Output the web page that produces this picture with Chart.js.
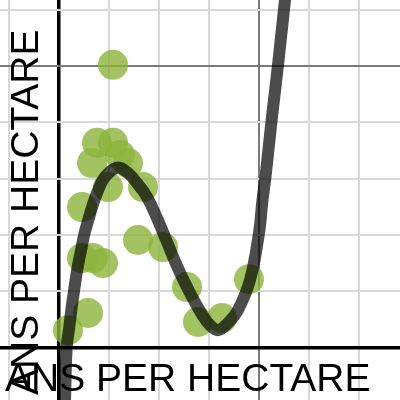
<!DOCTYPE html>
<html>
<head>
<meta charset="utf-8">
<script src="https://cdn.jsdelivr.net/npm/chart.js@4/dist/chart.umd.min.js"></script>
<style>
  html, body { margin: 0; padding: 0; background: #fff; }
  #wrap { width: 400px; height: 400px; position: relative; }
</style>
</head>
<body>
<div id="wrap"><canvas id="chart"></canvas></div>
<script>
const obsX = [0.54, 0.38, 0.54, 0.61, 0.69, 0.33, 0.49, 0.84, 0.23, 0.23, 0.34, 0.44, 0.79, 1.04, 1.28, 1.39, 1.63, 1.90, 0.29, 0.09];
const obsY = [10.04, 7.27, 7.27, 6.84, 6.55, 6.55, 5.70, 5.70, 4.99, 3.18, 3.18, 3.00, 3.82, 3.57, 2.15, 0.91, 1.05, 2.43, 1.23, 0.62];

// fitted curve, sampled by eye along the dark line
const fitX = [0.055, 0.06, 0.077, 0.103, 0.127, 0.15, 0.187, 0.227, 0.253, 0.293, 0.343, 0.393, 0.46, 0.58, 0.68, 0.78, 0.88, 0.98, 1.08, 1.19, 1.31, 1.44, 1.51, 1.59, 1.70, 1.79, 1.91, 2.00, 2.035, 2.065, 2.125, 2.19, 2.26, 2.30];
const fitY = [-2.22, -1.87, 0.02, 0.73, 1.44, 2.01, 2.86, 3.57, 4.03, 4.53, 5.13, 5.60, 6.06, 6.39, 6.23, 5.84, 5.35, 4.60, 3.75, 2.82, 1.94, 1.12, 0.80, 0.62, 0.91, 1.33, 2.40, 4.07, 5.24, 6.06, 8.04, 10.03, 12.34, 13.59];

// grid lines
const xTicks = [-0.5, 0, 0.5, 1, 1.5, 2, 2.5, 3];
const yTicks = [0, 2, 4, 6, 8, 10, 12];
const xMajor = 2, yMajor = 10;

const axisLabel = 'ANS PER HECTARE';

function gridColor(major) {
  return ctx => {
    const v = ctx.tick.value;
    if (v === 0) return '#000';
    if (v === major) return '#7a7a7a';
    return '#d8d8d8';
  };
}
function gridWidth(major) {
  return ctx => (ctx.tick.value === 0 ? 3.5 : 2);
}

const labels = {
  id: 'labels',
  beforeDatasetsDraw(chart) {
    const c = chart.ctx;
    c.save();
    c.fillStyle = '#000';
    c.font = "39px 'Liberation Sans', Arial, sans-serif";
    c.textAlign = 'left';
    c.textBaseline = 'alphabetic';
    c.fillText(axisLabel, 5, 391);
    c.translate(38, 395);
    c.rotate(-Math.PI / 2);
    c.fillText(axisLabel, 0, 0);
    c.restore();
  }
};

new Chart(document.getElementById('chart'), {
  type: 'scatter',
  data: {
    datasets: [
      {
        data: fitX.map((x, i) => ({ x, y: fitY[i] })),
        showLine: true,
        pointRadius: 0,
        borderColor: 'rgba(0,0,0,0.7)',
        borderWidth: 12,
        tension: 0.4,
        order: 0
      },
      {
        data: obsX.map((x, i) => ({ x, y: obsY[i] })),
        pointRadius: 15,
        pointHoverRadius: 15,
        pointBorderWidth: 0,
        backgroundColor: 'rgba(140,180,60,0.8)',
        order: 1
      }
    ]
  },
  options: {
    responsive: true,
    maintainAspectRatio: false,
    animation: false,
    layout: { padding: 0, autoPadding: false },
    plugins: { legend: { display: false }, tooltip: { enabled: false } },
    scales: {
      x: {
        type: 'linear',
        min: -0.59, max: 3.41,
        afterBuildTicks: s => { s.ticks = xTicks.map(v => ({ value: v })); },
        ticks: { display: false },
        grid: { color: gridColor(xMajor), lineWidth: gridWidth(xMajor), drawTicks: false },
        border: { display: false }
      },
      y: {
        type: 'linear',
        min: -1.86, max: 12.34,
        afterBuildTicks: s => { s.ticks = yTicks.map(v => ({ value: v })); },
        ticks: { display: false },
        grid: { color: gridColor(yMajor), lineWidth: gridWidth(yMajor), drawTicks: false },
        border: { display: false }
      }
    }
  },
  plugins: [labels]
});
</script>
</body>
</html>
